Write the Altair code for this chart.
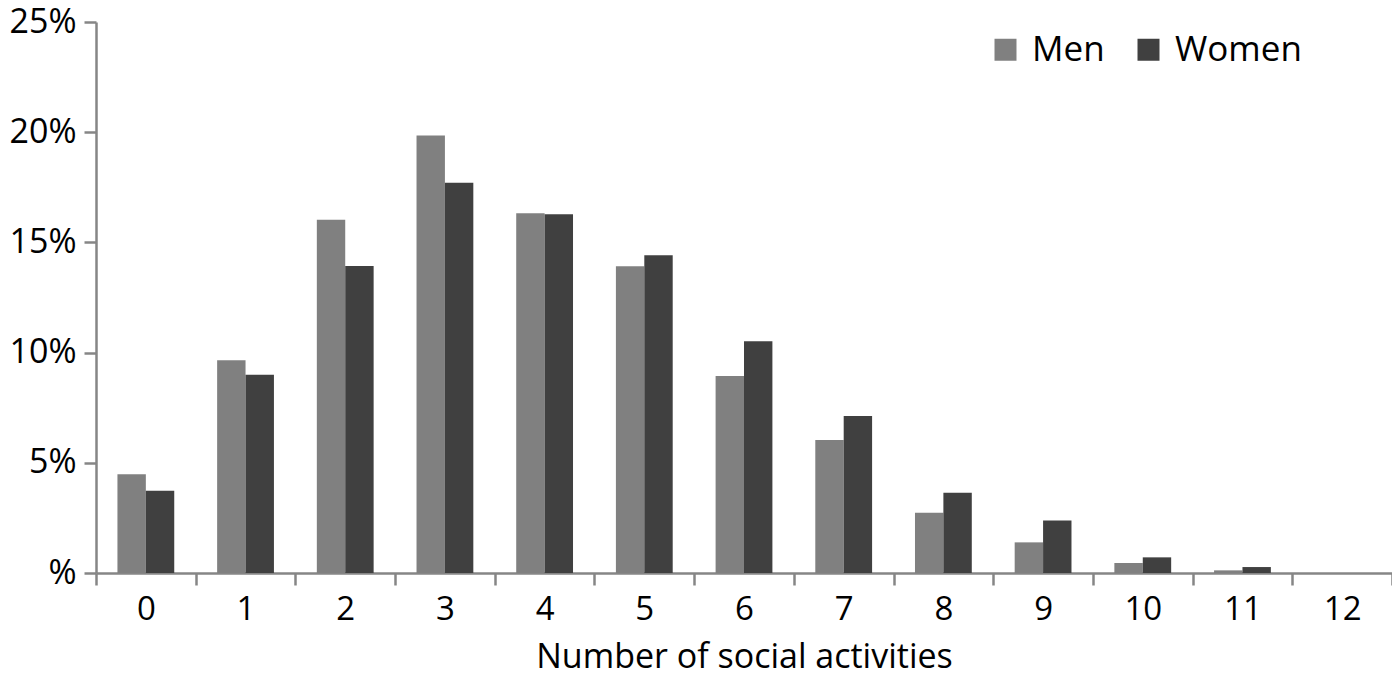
import altair as alt
import pandas as pd

categories = [str(i) for i in range(13)]
men = [4.48, 9.65, 16.03, 19.85, 16.32, 13.92, 8.94, 6.04, 2.73, 1.39, 0.45, 0.12, 0.0]
women = [3.73, 9.00, 13.93, 17.71, 16.28, 14.42, 10.52, 7.12, 3.64, 2.38, 0.71, 0.27, 0.0]
series = ["Men", "Women"]
colors = ["#808080", "#404040"]
y_ticks = [0, 5, 10, 15, 20, 25]

rows = []
for c, m, w in zip(categories, men, women):
    rows.append({"cat": c, "sex": "Men", "val": m})
    rows.append({"cat": c, "sex": "Women", "val": w})
df = pd.DataFrame(rows)

FONT = "Open Sans"
AXIS_COLOR = "#868686"

chart = alt.Chart(df).mark_bar().encode(
    x=alt.X("cat:N", sort=categories,
            scale=alt.Scale(paddingInner=0, paddingOuter=0),
            axis=alt.Axis(title="Number of social activities", labelAngle=0,
                          tickBand="extent", labelFontSize=33, titleFontSize=34,
                          titleFontWeight="normal", labelPadding=8, titlePadding=14,
                          domainColor=AXIS_COLOR, tickColor=AXIS_COLOR,
                          domainWidth=2.5, tickWidth=2.5, tickSize=12,
                          labelColor="black", titleColor="black",
                          labelFont=FONT, titleFont=FONT)),
    xOffset=alt.XOffset("sex:N", sort=series,
                        scale=alt.Scale(paddingInner=0, paddingOuter=0.755)),
    y=alt.Y("val:Q", scale=alt.Scale(domain=[0, 25]),
            axis=alt.Axis(title=None, values=y_ticks, grid=False,
                          labelExpr="datum.value == 0 ? '%' : datum.value + '%'",
                          labelFontSize=34, labelFont=FONT, labelColor="black",
                          domainColor=AXIS_COLOR, tickColor=AXIS_COLOR,
                          domainWidth=2.5, tickWidth=2.5, tickSize=12,
                          labelPadding=8)),
    color=alt.Color("sex:N", sort=series,
                    scale=alt.Scale(domain=series, range=colors),
                    legend=alt.Legend(title=None, orient="none", direction="horizontal",
                                      legendX=892, legendY=10, symbolType="square",
                                      symbolSize=484, symbolStrokeWidth=0,
                                      labelFontSize=35, labelFont=FONT, labelColor="black",
                                      columnPadding=26, labelOffset=9)),
).properties(
    width=1296, height=551,
    autosize=alt.AutoSizeParams(type="none"),
    padding={"left": 88, "top": 14, "right": 0, "bottom": 103},
).configure_view(stroke=None)

chart.save("out.html", embed_options={"renderer": "svg", "actions": False})
